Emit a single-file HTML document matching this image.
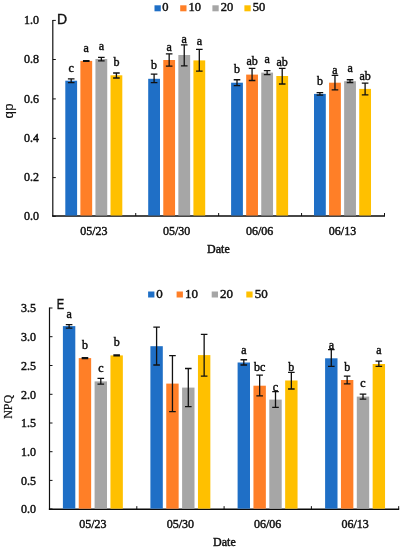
<!DOCTYPE html>
<html><head><meta charset="utf-8"><title>Chart</title>
<style>
html,body{margin:0;padding:0;background:#fff;}
svg{display:block}
.t{font-family:"Liberation Serif",serif;font-size:12px;fill:#111;stroke:#111;stroke-width:0.45px}
.s{font-family:"Liberation Sans",sans-serif;fill:#111;stroke:#111;stroke-width:0.4px}
</style></head><body>
<svg width="404" height="550" viewBox="0 0 404 550">
<rect width="404" height="550" fill="#fff"/>
<path d="M52.8 19.9V216.6" fill="none" stroke="#111" stroke-width="1.2"/>
<path d="M52.199999999999996 216.0H385.0" fill="none" stroke="#0a0a0a" stroke-width="1.5"/>
<path d="M52.8 20.40h3" stroke="#111" stroke-width="1"/>
<text x="38.9" y="24.00" text-anchor="end" class="t">1.0</text>
<path d="M52.8 59.50h3" stroke="#111" stroke-width="1"/>
<text x="38.9" y="63.10" text-anchor="end" class="t">0.8</text>
<path d="M52.8 98.90h3" stroke="#111" stroke-width="1"/>
<text x="38.9" y="102.50" text-anchor="end" class="t">0.6</text>
<path d="M52.8 138.40h3" stroke="#111" stroke-width="1"/>
<text x="38.9" y="142.00" text-anchor="end" class="t">0.4</text>
<path d="M52.8 177.60h3" stroke="#111" stroke-width="1"/>
<text x="38.9" y="181.20" text-anchor="end" class="t">0.2</text>
<path d="M52.8 216.30h3" stroke="#111" stroke-width="1"/>
<text x="38.9" y="219.90" text-anchor="end" class="t">0.0</text>
<path d="M135.72 216.0v-3" stroke="#111" stroke-width="1"/>
<path d="M218.65 216.0v-3" stroke="#111" stroke-width="1"/>
<path d="M301.57 216.0v-3" stroke="#111" stroke-width="1"/>
<path d="M384.50 216.0v-3" stroke="#111" stroke-width="1"/>
<rect x="65.30" y="80.70" width="11.8" height="134.80" fill="#1f6fc6"/>
<path d="M71.20 78.80V82.70M67.90 78.80h6.6M67.90 82.70h6.6" stroke="#111" stroke-width="1.3" fill="none"/>
<text x="71.20" y="71.60" text-anchor="middle" class="t">c</text>
<rect x="80.37" y="60.90" width="11.8" height="154.60" fill="#ff7f27"/>
<path d="M86.27 60.60V61.30M82.97 60.60h6.6M82.97 61.30h6.6" stroke="#111" stroke-width="1.3" fill="none"/>
<text x="86.27" y="51.50" text-anchor="middle" class="t">a</text>
<rect x="95.44" y="59.00" width="11.8" height="156.50" fill="#a6a6a6"/>
<path d="M101.34 57.30V60.80M98.04 57.30h6.6M98.04 60.80h6.6" stroke="#111" stroke-width="1.3" fill="none"/>
<text x="101.34" y="49.80" text-anchor="middle" class="t">a</text>
<rect x="110.51" y="75.30" width="11.8" height="140.20" fill="#ffc000"/>
<path d="M116.41 73.00V78.00M113.11 73.00h6.6M113.11 78.00h6.6" stroke="#111" stroke-width="1.3" fill="none"/>
<text x="116.41" y="66.40" text-anchor="middle" class="t">b</text>
<text x="93.81" y="234.7" text-anchor="middle" class="t">05/23</text>
<rect x="148.20" y="78.80" width="11.8" height="136.70" fill="#1f6fc6"/>
<path d="M154.10 74.10V82.70M150.80 74.10h6.6M150.80 82.70h6.6" stroke="#111" stroke-width="1.3" fill="none"/>
<text x="154.10" y="69.30" text-anchor="middle" class="t">b</text>
<rect x="163.27" y="60.00" width="11.8" height="155.50" fill="#ff7f27"/>
<path d="M169.17 53.80V66.10M165.87 53.80h6.6M165.87 66.10h6.6" stroke="#111" stroke-width="1.3" fill="none"/>
<text x="169.17" y="50.80" text-anchor="middle" class="t">a</text>
<rect x="178.34" y="55.00" width="11.8" height="160.50" fill="#a6a6a6"/>
<path d="M184.24 44.90V65.90M180.94 44.90h6.6M180.94 65.90h6.6" stroke="#111" stroke-width="1.3" fill="none"/>
<text x="184.24" y="43.10" text-anchor="middle" class="t">a</text>
<rect x="193.41" y="60.40" width="11.8" height="155.10" fill="#ffc000"/>
<path d="M199.31 49.40V71.10M196.01 49.40h6.6M196.01 71.10h6.6" stroke="#111" stroke-width="1.3" fill="none"/>
<text x="199.31" y="45.20" text-anchor="middle" class="t">a</text>
<text x="176.70" y="234.7" text-anchor="middle" class="t">05/30</text>
<rect x="231.10" y="82.70" width="11.8" height="132.80" fill="#1f6fc6"/>
<path d="M237.00 79.75V85.70M233.70 79.75h6.6M233.70 85.70h6.6" stroke="#111" stroke-width="1.3" fill="none"/>
<text x="237.00" y="72.50" text-anchor="middle" class="t">b</text>
<rect x="246.17" y="74.60" width="11.8" height="140.90" fill="#ff7f27"/>
<path d="M252.07 68.40V80.50M248.77 68.40h6.6M248.77 80.50h6.6" stroke="#111" stroke-width="1.3" fill="none"/>
<text x="252.07" y="64.90" text-anchor="middle" class="t">ab</text>
<rect x="261.24" y="72.60" width="11.8" height="142.90" fill="#a6a6a6"/>
<path d="M267.14 70.60V74.60M263.84 70.60h6.6M263.84 74.60h6.6" stroke="#111" stroke-width="1.3" fill="none"/>
<text x="267.14" y="63.00" text-anchor="middle" class="t">a</text>
<rect x="276.31" y="76.00" width="11.8" height="139.50" fill="#ffc000"/>
<path d="M282.21 68.40V84.00M278.91 68.40h6.6M278.91 84.00h6.6" stroke="#111" stroke-width="1.3" fill="none"/>
<text x="282.21" y="66.30" text-anchor="middle" class="t">ab</text>
<text x="259.61" y="234.7" text-anchor="middle" class="t">06/06</text>
<rect x="314.00" y="93.90" width="11.8" height="121.60" fill="#1f6fc6"/>
<path d="M319.90 92.60V95.10M316.60 92.60h6.6M316.60 95.10h6.6" stroke="#111" stroke-width="1.3" fill="none"/>
<text x="319.90" y="84.50" text-anchor="middle" class="t">b</text>
<rect x="329.07" y="82.70" width="11.8" height="132.80" fill="#ff7f27"/>
<path d="M334.97 75.30V89.90M331.67 75.30h6.6M331.67 89.90h6.6" stroke="#111" stroke-width="1.3" fill="none"/>
<text x="334.97" y="73.80" text-anchor="middle" class="t">a</text>
<rect x="344.14" y="81.20" width="11.8" height="134.30" fill="#a6a6a6"/>
<path d="M350.04 79.75V82.50M346.74 79.75h6.6M346.74 82.50h6.6" stroke="#111" stroke-width="1.3" fill="none"/>
<text x="350.04" y="71.80" text-anchor="middle" class="t">a</text>
<rect x="359.21" y="88.90" width="11.8" height="126.60" fill="#ffc000"/>
<path d="M365.11 83.20V94.90M361.81 83.20h6.6M361.81 94.90h6.6" stroke="#111" stroke-width="1.3" fill="none"/>
<text x="365.11" y="79.50" text-anchor="middle" class="t">ab</text>
<text x="342.50" y="234.7" text-anchor="middle" class="t">06/13</text>
<text x="218.4" y="253.3" text-anchor="middle" class="t">Date</text>
<text transform="translate(13.0,110.8) rotate(-90)" text-anchor="middle" class="s" style="font-size:13.2px;letter-spacing:0.3px;stroke-width:0.15px">qp</text>
<text x="57.1" y="23.9" class="s" style="font-size:14px">D</text>
<rect x="154.5" y="5.3" width="6.3" height="6" fill="#1f6fc6"/>
<text x="162.2" y="11.1" class="t" style="font-size:12.5px">0</text>
<rect x="180.2" y="5.3" width="6.3" height="6" fill="#ff7f27"/>
<text x="188.4" y="11.1" class="t" style="font-size:12.5px">10</text>
<rect x="212.4" y="5.3" width="6.3" height="6" fill="#a6a6a6"/>
<text x="220.8" y="11.1" class="t" style="font-size:12.5px">20</text>
<rect x="244.4" y="5.3" width="6.3" height="6" fill="#ffc000"/>
<text x="252.8" y="11.1" class="t" style="font-size:12.5px">50</text>
<path d="M49.5 307.5V509.75" fill="none" stroke="#111" stroke-width="1.2"/>
<path d="M48.9 509.15H399.2" fill="none" stroke="#0a0a0a" stroke-width="1.5"/>
<path d="M49.5 308.00h3" stroke="#111" stroke-width="1"/>
<text x="35.9" y="312.20" text-anchor="end" class="t">3.5</text>
<path d="M49.5 336.70h3" stroke="#111" stroke-width="1"/>
<text x="35.9" y="340.90" text-anchor="end" class="t">3.0</text>
<path d="M49.5 365.50h3" stroke="#111" stroke-width="1"/>
<text x="35.9" y="369.70" text-anchor="end" class="t">2.5</text>
<path d="M49.5 394.30h3" stroke="#111" stroke-width="1"/>
<text x="35.9" y="398.50" text-anchor="end" class="t">2.0</text>
<path d="M49.5 423.00h3" stroke="#111" stroke-width="1"/>
<text x="35.9" y="427.20" text-anchor="end" class="t">1.5</text>
<path d="M49.5 451.70h3" stroke="#111" stroke-width="1"/>
<text x="35.9" y="455.90" text-anchor="end" class="t">1.0</text>
<path d="M49.5 480.40h3" stroke="#111" stroke-width="1"/>
<text x="35.9" y="484.60" text-anchor="end" class="t">0.5</text>
<path d="M49.5 509.00h3" stroke="#111" stroke-width="1"/>
<text x="35.9" y="513.20" text-anchor="end" class="t">0.0</text>
<path d="M136.80 509.15v-3" stroke="#111" stroke-width="1"/>
<path d="M224.10 509.15v-3" stroke="#111" stroke-width="1"/>
<path d="M311.40 509.15v-3" stroke="#111" stroke-width="1"/>
<path d="M398.70 509.15v-3" stroke="#111" stroke-width="1"/>
<rect x="62.90" y="326.10" width="12.4" height="182.55" fill="#1f6fc6"/>
<path d="M69.10 324.60V328.20M65.80 324.60h6.6M65.80 328.20h6.6" stroke="#111" stroke-width="1.3" fill="none"/>
<text x="69.10" y="317.80" text-anchor="middle" class="t">a</text>
<rect x="78.75" y="358.10" width="12.4" height="150.55" fill="#ff7f27"/>
<path d="M84.95 357.60V358.60M81.65 357.60h6.6M81.65 358.60h6.6" stroke="#111" stroke-width="1.3" fill="none"/>
<text x="84.95" y="348.70" text-anchor="middle" class="t">b</text>
<rect x="94.60" y="381.40" width="12.4" height="127.25" fill="#a6a6a6"/>
<path d="M100.80 378.40V384.10M97.50 378.40h6.6M97.50 384.10h6.6" stroke="#111" stroke-width="1.3" fill="none"/>
<text x="100.80" y="371.70" text-anchor="middle" class="t">c</text>
<rect x="110.45" y="355.40" width="12.4" height="153.25" fill="#ffc000"/>
<path d="M116.65 354.90V355.90M113.35 354.90h6.6M113.35 355.90h6.6" stroke="#111" stroke-width="1.3" fill="none"/>
<text x="116.65" y="345.50" text-anchor="middle" class="t">b</text>
<text x="92.88" y="527.5" text-anchor="middle" class="t">05/23</text>
<rect x="150.40" y="346.20" width="12.4" height="162.45" fill="#1f6fc6"/>
<path d="M156.60 327.20V365.00M153.30 327.20h6.6M153.30 365.00h6.6" stroke="#111" stroke-width="1.3" fill="none"/>
<rect x="166.25" y="383.60" width="12.4" height="125.05" fill="#ff7f27"/>
<path d="M172.45 355.60V411.60M169.15 355.60h6.6M169.15 411.60h6.6" stroke="#111" stroke-width="1.3" fill="none"/>
<rect x="182.10" y="387.60" width="12.4" height="121.05" fill="#a6a6a6"/>
<path d="M188.30 368.50V406.70M185.00 368.50h6.6M185.00 406.70h6.6" stroke="#111" stroke-width="1.3" fill="none"/>
<rect x="197.95" y="355.10" width="12.4" height="153.55" fill="#ffc000"/>
<path d="M204.15 334.40V376.20M200.85 334.40h6.6M200.85 376.20h6.6" stroke="#111" stroke-width="1.3" fill="none"/>
<text x="180.38" y="527.5" text-anchor="middle" class="t">05/30</text>
<rect x="237.60" y="362.50" width="12.4" height="146.15" fill="#1f6fc6"/>
<path d="M243.80 359.75V365.00M240.50 359.75h6.6M240.50 365.00h6.6" stroke="#111" stroke-width="1.3" fill="none"/>
<text x="243.80" y="353.70" text-anchor="middle" class="t">a</text>
<rect x="253.45" y="385.70" width="12.4" height="122.95" fill="#ff7f27"/>
<path d="M259.65 375.10V395.90M256.35 375.10h6.6M256.35 395.90h6.6" stroke="#111" stroke-width="1.3" fill="none"/>
<text x="259.65" y="371.30" text-anchor="middle" class="t">bc</text>
<rect x="269.30" y="399.60" width="12.4" height="109.05" fill="#a6a6a6"/>
<path d="M275.50 391.70V407.30M272.20 391.70h6.6M272.20 407.30h6.6" stroke="#111" stroke-width="1.3" fill="none"/>
<text x="275.50" y="390.60" text-anchor="middle" class="t">c</text>
<rect x="285.15" y="380.50" width="12.4" height="128.15" fill="#ffc000"/>
<path d="M291.35 372.40V389.00M288.05 372.40h6.6M288.05 389.00h6.6" stroke="#111" stroke-width="1.3" fill="none"/>
<text x="291.35" y="370.90" text-anchor="middle" class="t">b</text>
<text x="267.57" y="527.5" text-anchor="middle" class="t">06/06</text>
<rect x="325.10" y="358.30" width="12.4" height="150.35" fill="#1f6fc6"/>
<path d="M331.30 349.60V366.40M328.00 349.60h6.6M328.00 366.40h6.6" stroke="#111" stroke-width="1.3" fill="none"/>
<text x="331.30" y="349.10" text-anchor="middle" class="t">a</text>
<rect x="340.95" y="380.00" width="12.4" height="128.65" fill="#ff7f27"/>
<path d="M347.15 376.10V383.80M343.85 376.10h6.6M343.85 383.80h6.6" stroke="#111" stroke-width="1.3" fill="none"/>
<text x="347.15" y="370.60" text-anchor="middle" class="t">b</text>
<rect x="356.80" y="396.60" width="12.4" height="112.05" fill="#a6a6a6"/>
<path d="M363.00 394.20V399.10M359.70 394.20h6.6M359.70 399.10h6.6" stroke="#111" stroke-width="1.3" fill="none"/>
<text x="363.00" y="386.70" text-anchor="middle" class="t">c</text>
<rect x="372.65" y="364.00" width="12.4" height="144.65" fill="#ffc000"/>
<path d="M378.85 361.20V366.40M375.55 361.20h6.6M375.55 366.40h6.6" stroke="#111" stroke-width="1.3" fill="none"/>
<text x="378.85" y="353.80" text-anchor="middle" class="t">a</text>
<text x="355.08" y="527.5" text-anchor="middle" class="t">06/13</text>
<text x="224.4" y="545.7" text-anchor="middle" class="t">Date</text>
<text transform="translate(11.7,406.8) rotate(-90) scale(0.91,1)" text-anchor="middle" class="t" style="font-size:13.2px;stroke-width:0.2px">NPQ</text>
<text transform="translate(56.7,308.8) scale(0.8,1)" class="s" style="font-size:14px">E</text>
<rect x="148.1" y="291.5" width="6.3" height="6" fill="#1f6fc6"/>
<text x="156.3" y="298.3" class="t" style="font-size:13px">0</text>
<rect x="176.6" y="291.5" width="6.3" height="6" fill="#ff7f27"/>
<text x="185.0" y="298.3" class="t" style="font-size:13px">10</text>
<rect x="211.7" y="291.5" width="6.3" height="6" fill="#a6a6a6"/>
<text x="220.1" y="298.3" class="t" style="font-size:13px">20</text>
<rect x="246.3" y="291.5" width="6.3" height="6" fill="#ffc000"/>
<text x="254.7" y="298.3" class="t" style="font-size:13px">50</text>
</svg>
</body></html>
